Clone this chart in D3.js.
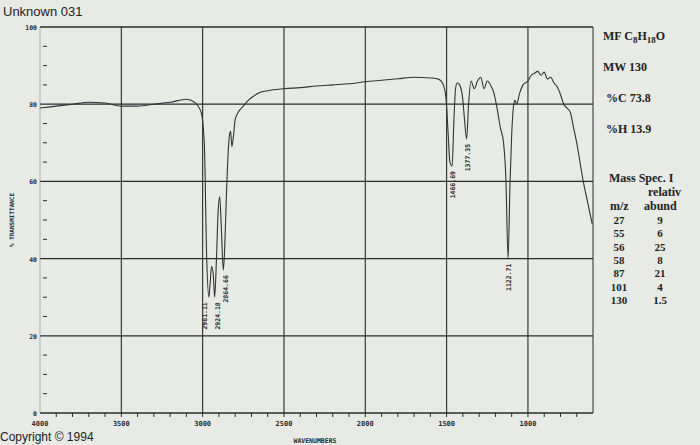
<!DOCTYPE html>
<html><head><meta charset="utf-8">
<script src="https://cdn.jsdelivr.net/npm/d3@7"></script>
<style>body{margin:0;background:#e6e9e4}svg{display:block}</style>
</head><body><svg id="c" width="700" height="445"></svg>
<script>
const wavenumbers = [4000,3900,3800,3700,3600,3500,3400,3300,3200,3100,3050,3010,2990,2975,2962,2955,2945,2935,2926,2915,2905,2895,2885,2873,2865,2855,2845,2835,2828,2820,2810,2800,2780,2750,2720,2690,2650,2600,2500,2400,2300,2200,2100,2000,1900,1800,1700,1600,1550,1525,1505,1490,1480,1466,1455,1445,1435,1420,1400,1390,1377,1365,1350,1330,1310,1290,1270,1250,1230,1210,1190,1170,1150,1135,1122,1110,1100,1090,1080,1070,1050,1030,1000,980,960,940,920,900,880,860,840,820,800,780,760,740,720,700,680,660,640,620,605];
const transmittance = [79,79.5,80,80.5,80.3,79.5,79.5,80,80.5,81.3,80.5,78,70,40,30,33,38,36,30,40,52,56,48,37,42,55,66,72,73,69,72,76,78,79.5,81,82,83,83.5,84,84.3,84.7,85,85.3,85.8,86.2,86.6,87,86.8,86.5,85.5,82,72,65,64,76,84,85.5,85,81,76,71,80,86,84,86,87,84,86,85,83,79,74,70,60,40,60,72,79,81,80,83,85,86,87.5,88,88.5,87.5,88.3,86.5,87,85.5,84.5,82.5,80,79,78,74,70,65,60,56,52,49];
const peakLabels = ["2961.11","2924.18","2864.66","1466.69","1377.35","1122.71"];
const peakPositions = [2962,2926,2873,1466,1377,1122];
const peakMinima = [30,30,37,64,71,40];
const xTicks = [4000,3500,3000,2500,2000,1500,1000];
const yTicks = [0,20,40,60,80,100];
const infoLines = ["MW 130","%C 73.8","%H 13.9"];
const msMz = [27,55,56,58,87,101,130];
const msAbund = ["9","6","25","8","21","4","1.5"];

const svg = d3.select("#c");
const x = d3.scaleLinear().domain([4000,600]).range([40,593]);
const y = d3.scaleLinear().domain([0,100]).range([413,27]);
const ink = "#2a2a2a";

svg.append("rect").attr("width",700).attr("height",445).attr("fill","#e7eae5");

const g = svg.append("g");
g.selectAll(".vx").data(xTicks.slice(1)).join("line")
 .attr("x1",d=>x(d)).attr("x2",d=>x(d)).attr("y1",y(100)).attr("y2",y(0))
 .attr("stroke",ink).attr("stroke-width",1.1);
g.selectAll(".hy").data(yTicks).join("line")
 .attr("x1",x(4000)).attr("x2",x(600)).attr("y1",d=>y(d)).attr("y2",d=>y(d))
 .attr("stroke",ink).attr("stroke-width",d=>d===0||d===100?1.4:1.2);
g.append("line").attr("x1",x(600)).attr("x2",x(600)).attr("y1",y(100)).attr("y2",y(0)).attr("stroke",ink);
g.append("line").attr("x1",x(4000)).attr("x2",x(4000)).attr("y1",y(100)).attr("y2",y(0)).attr("stroke","#888").attr("stroke-width",0.6);

const xm = d3.range(3900,600,-100);
g.selectAll(".mx").data(xm).join("line").attr("x1",d=>x(d)).attr("x2",d=>x(d))
 .attr("y1",y(0)).attr("y2",y(0)+4).attr("stroke",ink);
const ym = d3.range(5,100,5).filter(v=>v%20);
g.selectAll(".my").data(ym).join("line").attr("x1",x(4000)+3).attr("x2",x(4000)+7)
 .attr("y1",d=>y(d)).attr("y2",d=>y(d)).attr("stroke",ink);

svg.selectAll(".xl").data(xTicks).join("text").attr("x",d=>x(d)).attr("y",y(0)+13)
 .attr("text-anchor","middle").attr("font-family","DejaVu Sans Mono").attr("font-size",7).attr("font-weight","bold")
 .attr("fill",ink).text(d=>d);
svg.selectAll(".yl").data(yTicks).join("text").attr("x",x(4000)-3).attr("y",d=>y(d)+3)
 .attr("text-anchor","end").attr("font-family","DejaVu Sans Mono").attr("font-size",6.5).attr("font-weight","bold")
 .attr("fill",ink).text(d=>d);

const pts = wavenumbers.map((w,i)=>[w,transmittance[i]]);
svg.append("path").datum(pts)
 .attr("d",d3.line().x(d=>x(d[0])).y(d=>y(d[1])).curve(d3.curveMonotoneX))
 .attr("fill","none").attr("stroke","#333").attr("stroke-width",1.1);

const dxs = [-2,5,5,3,3,3];
peakLabels.forEach((t,i)=>{
  const px = x(peakPositions[i]) + dxs[i];
  const py = y(peakMinima[i]) + 5;
  svg.append("text").attr("transform",`translate(${px},${py}) rotate(-90)`).attr("text-anchor","end")
   .attr("font-family","DejaVu Sans Mono").attr("font-size",6.5).attr("font-weight","bold").attr("fill",ink).text(t);
});

const serif = "Liberation Serif";
svg.append("text").attr("x",3).attr("y",16).attr("font-family","Liberation Sans").attr("font-size",13).attr("fill","#222").text("Unknown 031");
svg.append("text").attr("x",0).attr("y",441).attr("font-family","Liberation Sans").attr("font-size",12).attr("fill","#222").text("Copyright  ©  1994");
svg.append("text").attr("x",315).attr("y",443).attr("text-anchor","middle").attr("font-family","DejaVu Sans Mono").attr("font-size",6.5).attr("font-weight","bold").attr("fill",ink).text("WAVENUMBERS");
svg.append("text").attr("transform","translate(14,220) rotate(-90)").attr("text-anchor","middle")
 .attr("font-family","DejaVu Sans Mono").attr("font-size",6).attr("font-weight","bold").attr("fill",ink).text("% TRANSMITTANCE");

const mf = svg.append("text").attr("x",603).attr("y",40).attr("font-family",serif).attr("font-weight","bold").attr("font-size",12).attr("fill","#222");
mf.append("tspan").text("MF C");
mf.append("tspan").attr("font-size",9).attr("dy",3).text("8");
mf.append("tspan").attr("dy",-3).text("H");
mf.append("tspan").attr("font-size",9).attr("dy",3).text("18");
mf.append("tspan").attr("dy",-3).text("O");
infoLines.forEach((t,i)=>svg.append("text").attr("x",i===0?603:606).attr("y",71+i*31)
 .attr("font-family",serif).attr("font-weight","bold").attr("font-size",12).attr("fill","#222").text(t));
svg.append("text").attr("x",609).attr("y",182).attr("font-family",serif).attr("font-weight","bold").attr("font-size",12).attr("fill","#222").text("Mass Spec. I");
svg.append("text").attr("x",648).attr("y",196).attr("font-family",serif).attr("font-weight","bold").attr("font-size",12).attr("fill","#222").text("relativ");
svg.append("text").attr("x",610).attr("y",210).attr("font-family",serif).attr("font-weight","bold").attr("font-size",12).attr("fill","#222").text("m/z");
svg.append("text").attr("x",644).attr("y",210).attr("font-family",serif).attr("font-weight","bold").attr("font-size",12).attr("fill","#222").text("abund");
msMz.forEach((m,i)=>{
  svg.append("text").attr("x",619).attr("y",224+i*13.3).attr("text-anchor","middle").attr("font-family",serif).attr("font-weight","bold").attr("font-size",11).attr("fill","#222").text(m);
  svg.append("text").attr("x",660).attr("y",224+i*13.3).attr("text-anchor","middle").attr("font-family",serif).attr("font-weight","bold").attr("font-size",11).attr("fill","#222").text(msAbund[i]);
});
</script></body></html>
